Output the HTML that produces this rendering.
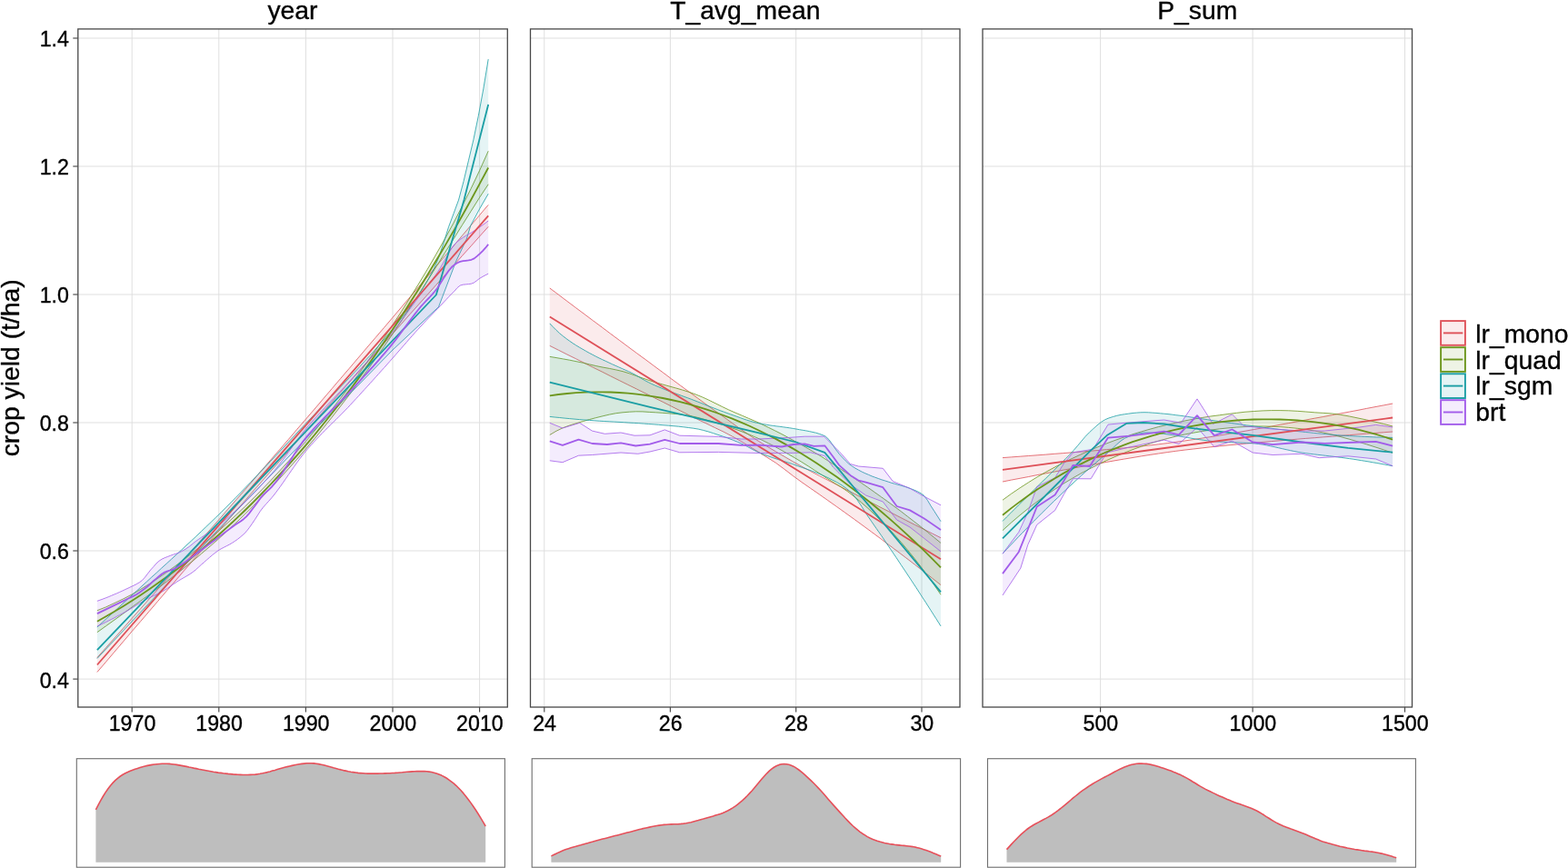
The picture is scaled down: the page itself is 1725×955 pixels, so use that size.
<!DOCTYPE html>
<html lang="en"><head><meta charset="utf-8"><title>crop yield (t/ha)</title>
<style>
html,body{margin:0;padding:0;background:#fff;}
body{width:1725px;height:955px;overflow:hidden;}
svg{display:block;}
text{font-family:"Liberation Sans",Arial,Helvetica,sans-serif;fill:#000;stroke:#000;stroke-width:0.35px;stroke-linejoin:round;}
.ax{font-size:23.2px;}
.st{font-size:28.3px;}
.lg{font-size:28.3px;}
.grid line{stroke:#dfdfdf;stroke-width:1;}
.tick line{stroke:#484848;stroke-width:1.15;}
.c{fill:none;stroke-width:1.8;stroke-linejoin:round;stroke-linecap:butt;}
.e{fill:none;stroke-width:0.8;stroke-linejoin:round;}
</style></head><body>
<svg width="1725" height="955" viewBox="0 0 1725 955">
<rect x="0" y="0" width="1725" height="955" fill="#ffffff"/>
<text class="st" x="322" y="20.5" text-anchor="middle">year</text>
<text class="st" x="819.8" y="20.5" text-anchor="middle">T_avg_mean</text>
<text class="st" x="1317.2" y="20.5" text-anchor="middle">P_sum</text>
<text class="st" transform="translate(21.2,404.8) rotate(-90)" text-anchor="middle">crop yield (t/ha)</text>
<g class="tick">
<line x1="80.3" x2="85.8" y1="42" y2="42"/>
<line x1="80.3" x2="85.8" y1="183" y2="183"/>
<line x1="80.3" x2="85.8" y1="324" y2="324"/>
<line x1="80.3" x2="85.8" y1="465" y2="465"/>
<line x1="80.3" x2="85.8" y1="606" y2="606"/>
<line x1="80.3" x2="85.8" y1="747.1" y2="747.1"/>
</g>
<text class="ax" x="75.9" y="51.4" text-anchor="end">1.4</text>
<text class="ax" x="75.9" y="192.4" text-anchor="end">1.2</text>
<text class="ax" x="75.9" y="333.4" text-anchor="end">1.0</text>
<text class="ax" x="75.9" y="474.4" text-anchor="end">0.8</text>
<text class="ax" x="75.9" y="615.4" text-anchor="end">0.6</text>
<text class="ax" x="75.9" y="756.5" text-anchor="end">0.4</text>
<g class="grid">
<line x1="85.8" x2="558.3" y1="42" y2="42"/>
<line x1="85.8" x2="558.3" y1="183" y2="183"/>
<line x1="85.8" x2="558.3" y1="324" y2="324"/>
<line x1="85.8" x2="558.3" y1="465" y2="465"/>
<line x1="85.8" x2="558.3" y1="606" y2="606"/>
<line x1="85.8" x2="558.3" y1="747.1" y2="747.1"/>
<line x1="145.2" x2="145.2" y1="31.9" y2="778"/>
<line x1="240.8" x2="240.8" y1="31.9" y2="778"/>
<line x1="336.4" x2="336.4" y1="31.9" y2="778"/>
<line x1="432" x2="432" y1="31.9" y2="778"/>
<line x1="527.6" x2="527.6" y1="31.9" y2="778"/>
</g>
<polygon points="106.9,723.5 116.5,712.7 126,702 135.6,691.2 145.1,680.4 154.7,669.6 164.3,658.8 173.8,648 183.4,637.2 193,626.3 202.5,615.4 212.1,604.6 221.6,593.6 231.2,582.7 240.8,571.8 250.3,560.8 259.9,549.8 269.5,538.8 279,527.8 288.6,516.7 298.1,505.6 307.7,494.6 317.3,483.5 326.8,472.3 336.4,461.2 346,450.1 355.5,438.9 365.1,427.7 374.6,416.5 384.2,405.4 393.8,394.1 403.3,382.9 412.9,371.7 422.5,360.5 432,349.3 441.6,338 451.1,326.8 460.7,315.5 470.3,304.3 479.8,293 489.4,281.7 499,270.5 508.5,259.2 518.1,247.9 527.6,236.7 537.2,225.4 537.2,249.4 527.6,260.1 518.1,270.8 508.5,281.4 499,292.1 489.4,302.8 479.8,313.5 470.3,324.2 460.7,334.9 451.1,345.6 441.6,356.4 432,367.1 422.5,377.8 412.9,388.5 403.3,399.3 393.8,410 384.2,420.8 374.6,431.6 365.1,442.3 355.5,453.1 346,463.9 336.4,474.7 326.8,485.6 317.3,496.4 307.7,507.3 298.1,518.1 288.6,529 279,539.9 269.5,550.9 259.9,561.8 250.3,572.8 240.8,583.8 231.2,594.8 221.6,605.8 212.1,616.9 202.5,627.9 193,639 183.4,650.1 173.8,661.3 164.3,672.4 154.7,683.6 145.1,694.7 135.6,705.9 126,717.1 116.5,728.3 106.9,739.5" fill="#DE5058" fill-opacity="0.115" stroke="none"/>
<polyline class="e" stroke="#DE5058" points="106.9,723.5 116.5,712.7 126,702 135.6,691.2 145.1,680.4 154.7,669.6 164.3,658.8 173.8,648 183.4,637.2 193,626.3 202.5,615.4 212.1,604.6 221.6,593.6 231.2,582.7 240.8,571.8 250.3,560.8 259.9,549.8 269.5,538.8 279,527.8 288.6,516.7 298.1,505.6 307.7,494.6 317.3,483.5 326.8,472.3 336.4,461.2 346,450.1 355.5,438.9 365.1,427.7 374.6,416.5 384.2,405.4 393.8,394.1 403.3,382.9 412.9,371.7 422.5,360.5 432,349.3 441.6,338 451.1,326.8 460.7,315.5 470.3,304.3 479.8,293 489.4,281.7 499,270.5 508.5,259.2 518.1,247.9 527.6,236.7 537.2,225.4"/>
<polyline class="e" stroke="#DE5058" points="106.9,739.5 116.5,728.3 126,717.1 135.6,705.9 145.1,694.7 154.7,683.6 164.3,672.4 173.8,661.3 183.4,650.1 193,639 202.5,627.9 212.1,616.9 221.6,605.8 231.2,594.8 240.8,583.8 250.3,572.8 259.9,561.8 269.5,550.9 279,539.9 288.6,529 298.1,518.1 307.7,507.3 317.3,496.4 326.8,485.6 336.4,474.7 346,463.9 355.5,453.1 365.1,442.3 374.6,431.6 384.2,420.8 393.8,410 403.3,399.3 412.9,388.5 422.5,377.8 432,367.1 441.6,356.4 451.1,345.6 460.7,334.9 470.3,324.2 479.8,313.5 489.4,302.8 499,292.1 508.5,281.4 518.1,270.8 527.6,260.1 537.2,249.4"/>
<polygon points="106.9,671.7 116.5,667.9 126,663.5 135.6,658.9 145.1,654 154.7,648.4 164.3,642.5 173.8,636.2 183.4,629.6 193,622.6 202.5,615.4 212.1,607.9 221.6,600.2 231.2,592.2 240.8,583.9 250.3,575.3 259.9,566.4 269.5,557.3 279,547.9 288.6,538.2 298.1,528.3 307.7,518 317.3,507.5 326.8,496.7 336.4,485.6 346,474.1 355.5,462.4 365.1,450.4 374.6,438.1 384.2,425.5 393.8,412.5 403.3,399.2 412.9,385.6 422.5,371.7 432,357.4 441.6,342.7 451.1,327.6 460.7,312.1 470.3,296.2 479.8,279.8 489.4,262.8 499,245.2 508.5,226.8 518.1,207.6 527.6,187.6 537.2,166.2 537.2,202.8 527.6,217.3 518.1,232.4 508.5,247.6 499,262.9 489.4,278.3 479.8,293.6 470.3,308.8 460.7,323.9 451.1,338.6 441.6,353.1 432,367.4 422.5,381.4 412.9,395.1 403.3,408.6 393.8,421.7 384.2,434.5 374.6,447 365.1,459.2 355.5,471.2 346,482.8 336.4,494.1 326.8,505.2 317.3,515.9 307.7,526.4 298.1,536.7 288.6,546.6 279,556.3 269.5,565.8 259.9,575 250.3,583.9 240.8,592.6 231.2,601 221.6,609.2 212.1,617.2 202.5,625 193,632.5 183.4,639.9 173.8,647.1 164.3,654.1 154.7,661.1 145.1,668 135.6,675.1 126,682 116.5,688.8 106.9,695.7" fill="#6C961C" fill-opacity="0.115" stroke="none"/>
<polyline class="e" stroke="#6C961C" points="106.9,671.7 116.5,667.9 126,663.5 135.6,658.9 145.1,654 154.7,648.4 164.3,642.5 173.8,636.2 183.4,629.6 193,622.6 202.5,615.4 212.1,607.9 221.6,600.2 231.2,592.2 240.8,583.9 250.3,575.3 259.9,566.4 269.5,557.3 279,547.9 288.6,538.2 298.1,528.3 307.7,518 317.3,507.5 326.8,496.7 336.4,485.6 346,474.1 355.5,462.4 365.1,450.4 374.6,438.1 384.2,425.5 393.8,412.5 403.3,399.2 412.9,385.6 422.5,371.7 432,357.4 441.6,342.7 451.1,327.6 460.7,312.1 470.3,296.2 479.8,279.8 489.4,262.8 499,245.2 508.5,226.8 518.1,207.6 527.6,187.6 537.2,166.2"/>
<polyline class="e" stroke="#6C961C" points="106.9,695.7 116.5,688.8 126,682 135.6,675.1 145.1,668 154.7,661.1 164.3,654.1 173.8,647.1 183.4,639.9 193,632.5 202.5,625 212.1,617.2 221.6,609.2 231.2,601 240.8,592.6 250.3,583.9 259.9,575 269.5,565.8 279,556.3 288.6,546.6 298.1,536.7 307.7,526.4 317.3,515.9 326.8,505.2 336.4,494.1 346,482.8 355.5,471.2 365.1,459.2 374.6,447 384.2,434.5 393.8,421.7 403.3,408.6 412.9,395.1 422.5,381.4 432,367.4 441.6,353.1 451.1,338.6 460.7,323.9 470.3,308.8 479.8,293.6 489.4,278.3 499,262.9 508.5,247.6 518.1,232.4 527.6,217.3 537.2,202.8"/>
<polygon points="106.9,690 112.3,685 117.8,680 123.2,675 128.7,670 134.1,665 139.6,660 145,655 150.5,650 155.9,645 161.4,640 166.8,635 172.3,630.1 177.7,625.1 183.2,620.1 188.6,615.2 194,610.2 199.5,605.2 204.9,600.1 210.4,595.1 215.8,590 221.3,584.8 226.7,579.6 232.2,574.4 237.6,569.1 243.1,563.8 248.5,558.3 254,552.9 259.4,547.3 264.9,541.8 270.3,536.1 275.8,530.5 281.2,524.8 286.6,519 292.1,513.3 297.5,507.5 303,501.7 308.4,495.9 313.9,490.1 319.3,484.3 324.8,478.4 330.2,472.6 335.7,466.8 341.1,461 346.6,455.2 352,449.5 357.5,443.8 362.9,438.1 368.3,432.4 373.8,426.7 379.2,421 384.7,415.3 390.1,409.4 395.6,403.6 401,397.6 406.5,391.6 411.9,385.5 417.4,379.3 422.8,373 428.3,366.5 433.7,359.9 439.2,353.2 444.6,346.4 450.1,339.2 455.5,331.6 460.9,323.6 466.4,315.2 471.8,306.1 477.3,295.8 482.7,283.2 488.2,266.7 493.6,249.5 499.1,234.8 504.5,220.1 510,199.6 515.4,176.8 520.9,153.7 526.3,127.5 531.8,97.9 537.2,65.1 537.2,213.2 527.9,229.3 517.7,248.4 513.3,263 501.5,287.9 482.5,337.7 432,385 336.4,483 240.8,582 106.9,724.5" fill="#1A9EA4" fill-opacity="0.115" stroke="none"/>
<polyline class="e" stroke="#1A9EA4" points="106.9,690 112.3,685 117.8,680 123.2,675 128.7,670 134.1,665 139.6,660 145,655 150.5,650 155.9,645 161.4,640 166.8,635 172.3,630.1 177.7,625.1 183.2,620.1 188.6,615.2 194,610.2 199.5,605.2 204.9,600.1 210.4,595.1 215.8,590 221.3,584.8 226.7,579.6 232.2,574.4 237.6,569.1 243.1,563.8 248.5,558.3 254,552.9 259.4,547.3 264.9,541.8 270.3,536.1 275.8,530.5 281.2,524.8 286.6,519 292.1,513.3 297.5,507.5 303,501.7 308.4,495.9 313.9,490.1 319.3,484.3 324.8,478.4 330.2,472.6 335.7,466.8 341.1,461 346.6,455.2 352,449.5 357.5,443.8 362.9,438.1 368.3,432.4 373.8,426.7 379.2,421 384.7,415.3 390.1,409.4 395.6,403.6 401,397.6 406.5,391.6 411.9,385.5 417.4,379.3 422.8,373 428.3,366.5 433.7,359.9 439.2,353.2 444.6,346.4 450.1,339.2 455.5,331.6 460.9,323.6 466.4,315.2 471.8,306.1 477.3,295.8 482.7,283.2 488.2,266.7 493.6,249.5 499.1,234.8 504.5,220.1 510,199.6 515.4,176.8 520.9,153.7 526.3,127.5 531.8,97.9 537.2,65.1"/>
<polyline class="e" stroke="#1A9EA4" points="106.9,724.5 240.8,582 336.4,483 432,385 482.5,337.7 501.5,287.9 513.3,263 517.7,248.4 527.9,229.3 537.2,213.2"/>
<polygon points="106.9,661.3 110,660.2 113.1,659.1 116.2,657.9 119.3,656.7 122.4,655.4 125.5,654.1 128.6,652.8 131.7,651.4 134.8,650 137.9,648.5 141,647.1 144,645.6 147.1,644.2 150.2,642.6 153.3,640.8 156.4,638.5 159.5,635.1 162.6,631 165.7,627 168.8,623.6 171.9,620.1 175,617.2 178.1,615.2 181.2,613.7 184.3,612.5 187.4,611.3 190.5,610.2 193.6,609.2 196.7,608.1 199.8,606.6 202.9,604.9 206,602.9 209.1,600.7 212.2,598.1 215.2,595.7 218.3,593.5 221.4,591.4 224.5,589.3 227.6,587.2 230.7,585.2 233.8,583 236.9,580.8 240,578.4 243.1,575.9 246.2,573.3 249.3,570.7 252.4,568 255.5,565.3 258.6,562.5 261.7,559.6 264.8,556.7 267.9,553.8 271,550.8 274.1,547.7 277.2,544.6 280.3,541.4 283.4,538.2 286.4,534.9 289.5,531.6 292.6,528.2 295.7,524.8 298.8,521.3 301.9,517.8 305,514 308.1,510 311.2,505.9 314.3,501.6 317.4,497.3 320.5,493 323.6,488.7 326.7,484.4 329.8,480.3 332.9,476.2 336,472.4 339.1,468.7 342.2,465.1 345.3,461.6 348.4,458.2 351.5,454.8 354.6,451.5 357.7,448.2 360.7,444.9 363.8,441.6 366.9,438.4 370,435.1 373.1,431.8 376.2,428.5 379.3,425.2 382.4,421.8 385.5,418.3 388.6,414.9 391.7,411.4 394.8,408 397.9,404.5 401,401.1 404.1,397.6 407.2,394.2 410.3,390.7 413.4,387.1 416.5,383.6 419.6,380 422.7,376.3 425.8,372.6 428.9,368.9 431.9,365.1 435,361.2 438.1,357.2 441.2,353.1 444.3,348.9 447.4,344.7 450.5,340.5 453.6,336.3 456.7,332.1 459.8,327.9 462.9,323.8 466,319.8 469.1,315.8 472.2,311.9 475.3,307.9 478.4,303.7 481.5,299.3 484.6,294.4 487.7,289 490.8,283.4 493.9,278 497,273 500.1,268.9 503.1,265.9 506.2,263.5 509.3,261.4 512.4,259.4 515.5,257.7 518.6,255.9 521.7,253.9 524.8,251.8 527.9,249.7 531,247.6 534.1,245.3 537.2,243 537.2,301.1 534.1,302.7 531,304.4 527.9,306.2 524.8,308.5 521.7,310.9 518.6,312.2 515.5,312.6 512.4,312.9 509.3,313.2 506.2,314.1 503.1,316.6 500.1,320.1 497,323.2 493.9,326.4 490.8,329.7 487.7,333 484.6,336.3 481.5,339.6 478.4,342.8 475.3,346 472.2,349.2 469.1,352.4 466,355.7 462.9,359 459.8,362.4 456.7,365.8 453.6,369.3 450.5,372.8 447.4,376.4 444.3,379.9 441.2,383.5 438.1,387 435,390.6 431.9,394.1 428.9,397.5 425.8,401 422.7,404.5 419.6,407.9 416.5,411.4 413.4,414.8 410.3,418.3 407.2,421.7 404.1,425.1 401,428.5 397.9,431.9 394.8,435.3 391.7,438.7 388.6,442 385.5,445.4 382.4,448.7 379.3,451.9 376.2,455.1 373.1,458.2 370,461.3 366.9,464.3 363.8,467.4 360.7,470.4 357.7,473.5 354.6,476.6 351.5,479.8 348.4,483 345.3,486.3 342.2,489.7 339.1,493.2 336,496.9 332.9,500.7 329.8,504.8 326.7,509 323.6,513.4 320.5,517.8 317.4,522.3 314.3,526.8 311.2,531.3 308.1,535.7 305,539.9 301.9,544 298.8,547.8 295.7,551.3 292.6,554.7 289.5,558.2 286.4,562.3 283.4,567 280.3,571.8 277.2,576.4 274.1,580.8 271,584.8 267.9,587.9 264.8,590.6 261.7,593.1 258.6,595.3 255.5,597.3 252.4,599.1 249.3,600.7 246.2,602.3 243.1,603.9 240,605.8 236.9,608.1 233.8,610.5 230.7,613.2 227.6,615.9 224.5,618.6 221.4,621.3 218.3,624.2 215.2,627 212.2,629.4 209.1,631.5 206,633.4 202.9,635.2 199.8,637 196.7,638.8 193.6,640.8 190.5,642.9 187.4,645.1 184.3,647.3 181.2,649.3 178.1,651.1 175,652.7 171.9,654.2 168.8,655.6 165.7,657.1 162.6,658.6 159.5,660.3 156.4,662 153.3,663.9 150.2,665.8 147.1,667.8 144,669.6 141,671.5 137.9,673.2 134.8,674.9 131.7,676.6 128.6,678.2 125.5,679.9 122.4,681.5 119.3,683 116.2,684.6 113.1,686.1 110,687.6 106.9,689" fill="#A25CEA" fill-opacity="0.115" stroke="none"/>
<polyline class="e" stroke="#A25CEA" points="106.9,661.3 110,660.2 113.1,659.1 116.2,657.9 119.3,656.7 122.4,655.4 125.5,654.1 128.6,652.8 131.7,651.4 134.8,650 137.9,648.5 141,647.1 144,645.6 147.1,644.2 150.2,642.6 153.3,640.8 156.4,638.5 159.5,635.1 162.6,631 165.7,627 168.8,623.6 171.9,620.1 175,617.2 178.1,615.2 181.2,613.7 184.3,612.5 187.4,611.3 190.5,610.2 193.6,609.2 196.7,608.1 199.8,606.6 202.9,604.9 206,602.9 209.1,600.7 212.2,598.1 215.2,595.7 218.3,593.5 221.4,591.4 224.5,589.3 227.6,587.2 230.7,585.2 233.8,583 236.9,580.8 240,578.4 243.1,575.9 246.2,573.3 249.3,570.7 252.4,568 255.5,565.3 258.6,562.5 261.7,559.6 264.8,556.7 267.9,553.8 271,550.8 274.1,547.7 277.2,544.6 280.3,541.4 283.4,538.2 286.4,534.9 289.5,531.6 292.6,528.2 295.7,524.8 298.8,521.3 301.9,517.8 305,514 308.1,510 311.2,505.9 314.3,501.6 317.4,497.3 320.5,493 323.6,488.7 326.7,484.4 329.8,480.3 332.9,476.2 336,472.4 339.1,468.7 342.2,465.1 345.3,461.6 348.4,458.2 351.5,454.8 354.6,451.5 357.7,448.2 360.7,444.9 363.8,441.6 366.9,438.4 370,435.1 373.1,431.8 376.2,428.5 379.3,425.2 382.4,421.8 385.5,418.3 388.6,414.9 391.7,411.4 394.8,408 397.9,404.5 401,401.1 404.1,397.6 407.2,394.2 410.3,390.7 413.4,387.1 416.5,383.6 419.6,380 422.7,376.3 425.8,372.6 428.9,368.9 431.9,365.1 435,361.2 438.1,357.2 441.2,353.1 444.3,348.9 447.4,344.7 450.5,340.5 453.6,336.3 456.7,332.1 459.8,327.9 462.9,323.8 466,319.8 469.1,315.8 472.2,311.9 475.3,307.9 478.4,303.7 481.5,299.3 484.6,294.4 487.7,289 490.8,283.4 493.9,278 497,273 500.1,268.9 503.1,265.9 506.2,263.5 509.3,261.4 512.4,259.4 515.5,257.7 518.6,255.9 521.7,253.9 524.8,251.8 527.9,249.7 531,247.6 534.1,245.3 537.2,243"/>
<polyline class="e" stroke="#A25CEA" points="106.9,689 110,687.6 113.1,686.1 116.2,684.6 119.3,683 122.4,681.5 125.5,679.9 128.6,678.2 131.7,676.6 134.8,674.9 137.9,673.2 141,671.5 144,669.6 147.1,667.8 150.2,665.8 153.3,663.9 156.4,662 159.5,660.3 162.6,658.6 165.7,657.1 168.8,655.6 171.9,654.2 175,652.7 178.1,651.1 181.2,649.3 184.3,647.3 187.4,645.1 190.5,642.9 193.6,640.8 196.7,638.8 199.8,637 202.9,635.2 206,633.4 209.1,631.5 212.2,629.4 215.2,627 218.3,624.2 221.4,621.3 224.5,618.6 227.6,615.9 230.7,613.2 233.8,610.5 236.9,608.1 240,605.8 243.1,603.9 246.2,602.3 249.3,600.7 252.4,599.1 255.5,597.3 258.6,595.3 261.7,593.1 264.8,590.6 267.9,587.9 271,584.8 274.1,580.8 277.2,576.4 280.3,571.8 283.4,567 286.4,562.3 289.5,558.2 292.6,554.7 295.7,551.3 298.8,547.8 301.9,544 305,539.9 308.1,535.7 311.2,531.3 314.3,526.8 317.4,522.3 320.5,517.8 323.6,513.4 326.7,509 329.8,504.8 332.9,500.7 336,496.9 339.1,493.2 342.2,489.7 345.3,486.3 348.4,483 351.5,479.8 354.6,476.6 357.7,473.5 360.7,470.4 363.8,467.4 366.9,464.3 370,461.3 373.1,458.2 376.2,455.1 379.3,451.9 382.4,448.7 385.5,445.4 388.6,442 391.7,438.7 394.8,435.3 397.9,431.9 401,428.5 404.1,425.1 407.2,421.7 410.3,418.3 413.4,414.8 416.5,411.4 419.6,407.9 422.7,404.5 425.8,401 428.9,397.5 431.9,394.1 435,390.6 438.1,387 441.2,383.5 444.3,379.9 447.4,376.4 450.5,372.8 453.6,369.3 456.7,365.8 459.8,362.4 462.9,359 466,355.7 469.1,352.4 472.2,349.2 475.3,346 478.4,342.8 481.5,339.6 484.6,336.3 487.7,333 490.8,329.7 493.9,326.4 497,323.2 500.1,320.1 503.1,316.6 506.2,314.1 509.3,313.2 512.4,312.9 515.5,312.6 518.6,312.2 521.7,310.9 524.8,308.5 527.9,306.2 531,304.4 534.1,302.7 537.2,301.1"/>
<polyline class="c" stroke="#DE5058" points="106.9,731.5 537.2,237.4"/>
<polyline class="c" stroke="#6C961C" points="106.9,683.7 116.5,678.3 126,672.8 135.6,667 145.1,661 154.7,654.8 164.3,648.3 173.8,641.6 183.4,634.7 193,627.6 202.5,620.2 212.1,612.6 221.6,604.7 231.2,596.6 240.8,588.2 250.3,579.6 259.9,570.7 269.5,561.5 279,552.1 288.6,542.4 298.1,532.5 307.7,522.2 317.3,511.7 326.8,500.9 336.4,489.8 346,478.5 355.5,466.8 365.1,454.8 374.6,442.6 384.2,430 393.8,417.1 403.3,403.9 412.9,390.4 422.5,376.6 432,362.4 441.6,347.9 451.1,333.1 460.7,318 470.3,302.5 479.8,286.7 489.4,270.6 499,254.1 508.5,237.2 518.1,220 527.6,202.4 537.2,184.5"/>
<polyline class="c" stroke="#1A9EA4" points="106.9,715.2 479.8,324.5 510.5,220 537.2,115"/>
<polyline class="c" stroke="#A25CEA" points="106.9,675.1 110,673.6 113.1,672.1 116.2,670.6 119.3,669.1 122.4,667.6 125.5,666.1 128.6,664.6 131.7,663.1 134.8,661.6 137.9,660.1 141,658.5 144,657.1 147.1,655.6 150.2,654 153.3,652 156.4,649.8 159.5,647.5 162.6,645 165.7,642.1 168.8,639.2 171.9,636.6 175,634 178.1,631.5 181.2,629.5 184.3,628.3 187.4,627.5 190.5,626.4 193.6,624.9 196.7,623 199.8,621 202.9,618.9 206,616.7 209.1,614.4 212.2,612.1 215.2,609.8 218.3,607.6 221.4,605.3 224.5,603 227.6,600.6 230.7,598.3 233.8,596 236.9,593.7 240,591.4 243.1,589.1 246.2,586.7 249.3,584.4 252.4,582.1 255.5,579.8 258.6,577.6 261.7,575.6 264.8,573.5 267.9,571.2 271,568.4 274.1,564.9 277.2,560.8 280.3,556.7 283.4,552.4 286.4,548.2 289.5,544.6 292.6,541.6 295.7,538.8 298.8,535.8 301.9,532.2 305,528.3 308.1,524 311.2,519.4 314.3,514.7 317.4,509.8 320.5,504.9 323.6,500.1 326.7,495.3 329.8,490.7 332.9,486.4 336,482.4 339.1,478.7 342.2,475.1 345.3,471.6 348.4,468.3 351.5,465 354.6,461.8 357.7,458.7 360.7,455.6 363.8,452.5 366.9,449.5 370,446.4 373.1,443.3 376.2,440.2 379.3,437 382.4,433.7 385.5,430.4 388.6,427 391.7,423.6 394.8,420.3 397.9,416.9 401,413.5 404.1,410.1 407.2,406.7 410.3,403.3 413.4,399.8 416.5,396.3 419.6,392.7 422.7,389.1 425.8,385.5 428.9,381.8 431.9,378.1 435,374.2 438.1,370.2 441.2,366 444.3,361.8 447.4,357.6 450.5,353.4 453.6,349.2 456.7,345.1 459.8,341.2 462.9,337.4 466,334 469.1,330.7 472.2,327.5 475.3,324.1 478.4,320.5 481.5,316.5 484.6,311.6 487.7,306.6 490.8,302 493.9,297.5 497,293.8 500.1,291.3 503.1,289.3 506.2,287.9 509.3,287.2 512.4,286.8 515.5,286.4 518.6,285.8 521.7,284.4 524.8,281.9 527.9,279.1 531,276.1 534.1,272.7 537.2,268.9"/>
<rect x="85.8" y="31.9" width="472.5" height="746.1" fill="none" stroke="#484848" stroke-width="1.3"/>
<g class="tick">
<line x1="145.2" x2="145.2" y1="778" y2="783.6"/>
<line x1="240.8" x2="240.8" y1="778" y2="783.6"/>
<line x1="336.4" x2="336.4" y1="778" y2="783.6"/>
<line x1="432" x2="432" y1="778" y2="783.6"/>
<line x1="527.6" x2="527.6" y1="778" y2="783.6"/>
</g>
<text class="ax" x="145.5" y="804.4" text-anchor="middle">1970</text>
<text class="ax" x="241.1" y="804.4" text-anchor="middle">1980</text>
<text class="ax" x="336.7" y="804.4" text-anchor="middle">1990</text>
<text class="ax" x="432.3" y="804.4" text-anchor="middle">2000</text>
<text class="ax" x="527.9" y="804.4" text-anchor="middle">2010</text>
<g class="grid">
<line x1="583.5" x2="1056" y1="42" y2="42"/>
<line x1="583.5" x2="1056" y1="183" y2="183"/>
<line x1="583.5" x2="1056" y1="324" y2="324"/>
<line x1="583.5" x2="1056" y1="465" y2="465"/>
<line x1="583.5" x2="1056" y1="606" y2="606"/>
<line x1="583.5" x2="1056" y1="747.1" y2="747.1"/>
<line x1="598.8" x2="598.8" y1="31.9" y2="778"/>
<line x1="737.4" x2="737.4" y1="31.9" y2="778"/>
<line x1="875.7" x2="875.7" y1="31.9" y2="778"/>
<line x1="1014" x2="1014" y1="31.9" y2="778"/>
</g>
<polygon points="604.8,317 614.4,324.2 623.9,331.4 633.5,338.6 643,345.7 652.6,352.9 662.2,360 671.7,367.2 681.3,374.3 690.8,381.4 700.4,388.5 710,395.5 719.5,402.6 729.1,409.7 738.6,416.8 748.2,423.9 757.8,430.9 767.3,437.9 776.9,444.9 786.4,451.8 796,458.6 805.6,465.5 815.1,472.4 824.7,479 834.2,485.2 843.8,491.1 853.4,496.8 862.9,502.3 872.5,507.9 882,513.2 891.6,518.4 901.2,523.4 910.7,528.3 920.3,533.2 929.8,538.1 939.4,543 949,548 958.5,552.9 968.1,557.9 977.6,562.7 987.2,567.6 996.8,572.5 1006.3,577.3 1015.9,582.1 1025.4,586.9 1035,591.7 1035,643.6 1025.4,636 1015.9,628.6 1006.3,621.1 996.8,613.8 987.2,606.5 977.6,599.3 968.1,592.1 958.5,585 949,578 939.4,571 929.8,564.1 920.3,557.3 910.7,550.5 901.2,543.8 891.6,537.2 882,530.5 872.5,523.6 862.9,516.2 853.4,509.2 843.8,503.2 834.2,497.2 824.7,491.3 815.1,485.5 805.6,480.1 796,475.1 786.4,470.5 776.9,465.9 767.3,461.3 757.8,456.6 748.2,451.8 738.6,447 729.1,442.2 719.5,437.5 710,432.8 700.4,428 690.8,423.3 681.3,418.6 671.7,413.8 662.2,409 652.6,404.3 643,399.5 633.5,394.7 623.9,390 614.4,385.2 604.8,380.4" fill="#DE5058" fill-opacity="0.115" stroke="none"/>
<polyline class="e" stroke="#DE5058" points="604.8,317 614.4,324.2 623.9,331.4 633.5,338.6 643,345.7 652.6,352.9 662.2,360 671.7,367.2 681.3,374.3 690.8,381.4 700.4,388.5 710,395.5 719.5,402.6 729.1,409.7 738.6,416.8 748.2,423.9 757.8,430.9 767.3,437.9 776.9,444.9 786.4,451.8 796,458.6 805.6,465.5 815.1,472.4 824.7,479 834.2,485.2 843.8,491.1 853.4,496.8 862.9,502.3 872.5,507.9 882,513.2 891.6,518.4 901.2,523.4 910.7,528.3 920.3,533.2 929.8,538.1 939.4,543 949,548 958.5,552.9 968.1,557.9 977.6,562.7 987.2,567.6 996.8,572.5 1006.3,577.3 1015.9,582.1 1025.4,586.9 1035,591.7"/>
<polyline class="e" stroke="#DE5058" points="604.8,380.4 614.4,385.2 623.9,390 633.5,394.7 643,399.5 652.6,404.3 662.2,409 671.7,413.8 681.3,418.6 690.8,423.3 700.4,428 710,432.8 719.5,437.5 729.1,442.2 738.6,447 748.2,451.8 757.8,456.6 767.3,461.3 776.9,465.9 786.4,470.5 796,475.1 805.6,480.1 815.1,485.5 824.7,491.3 834.2,497.2 843.8,503.2 853.4,509.2 862.9,516.2 872.5,523.6 882,530.5 891.6,537.2 901.2,543.8 910.7,550.5 920.3,557.3 929.8,564.1 939.4,571 949,578 958.5,585 968.1,592.1 977.6,599.3 987.2,606.5 996.8,613.8 1006.3,621.1 1015.9,628.6 1025.4,636 1035,643.6"/>
<polygon points="604.8,392.4 612.1,393.6 619.4,394.9 626.7,396.2 634,397.7 641.3,399.2 648.5,400.9 655.8,402.6 663.1,404.1 670.4,405.4 677.7,406.9 685,408.6 692.3,410.8 699.6,413.4 706.9,416 714.2,418.5 721.5,420.8 728.8,422.9 736,424.9 743.3,426.9 750.6,429 757.9,431.3 765.2,433.9 772.5,436.8 779.8,440.2 787.1,443.8 794.4,447.4 801.7,450.9 809,454.1 816.3,457.2 823.5,460.3 830.8,463.4 838.1,466.8 845.4,470.3 852.7,473.9 860,477.6 867.3,481.5 874.6,485.5 881.9,489.5 889.2,493.7 896.5,498 903.8,502.4 911,507 918.3,511.8 925.6,516.5 932.9,521.4 940.2,526.3 947.5,531.3 954.8,536.3 962.1,541.5 969.4,546.7 976.7,551.9 984,557.3 991.3,562.7 998.5,568.3 1005.8,573.9 1013.1,579.6 1020.4,585.4 1027.7,591.4 1035,597.4 1035,654.3 1027.7,643.6 1020.4,633.4 1013.1,623.6 1005.8,614.2 998.5,605.2 991.3,596.6 984,588.4 976.7,580.5 969.4,573.1 962.1,566 954.8,559.2 947.5,552.8 940.2,546.7 932.9,541 925.6,536.1 918.3,531.6 911,527.1 903.8,522.4 896.5,517.6 889.2,512.9 881.9,508.3 874.6,503.9 867.3,499.7 860,495.5 852.7,491.5 845.4,487.7 838.1,484.1 830.8,480.9 823.5,477.8 816.3,474.9 809,472.2 801.7,469.6 794.4,467.2 787.1,465 779.8,462.8 772.5,460.7 765.2,458.8 757.9,457.3 750.6,456.2 743.3,455.5 736,454.8 728.8,454.3 721.5,453.8 714.2,453.4 706.9,452.9 699.6,452.8 692.3,453.2 685,453.8 677.7,454.7 670.4,456.1 663.1,457.8 655.8,459.6 648.5,461.5 641.3,463.6 634,465.8 626.7,468 619.4,470.7 612.1,474.2 604.8,478.5" fill="#6C961C" fill-opacity="0.115" stroke="none"/>
<polyline class="e" stroke="#6C961C" points="604.8,392.4 612.1,393.6 619.4,394.9 626.7,396.2 634,397.7 641.3,399.2 648.5,400.9 655.8,402.6 663.1,404.1 670.4,405.4 677.7,406.9 685,408.6 692.3,410.8 699.6,413.4 706.9,416 714.2,418.5 721.5,420.8 728.8,422.9 736,424.9 743.3,426.9 750.6,429 757.9,431.3 765.2,433.9 772.5,436.8 779.8,440.2 787.1,443.8 794.4,447.4 801.7,450.9 809,454.1 816.3,457.2 823.5,460.3 830.8,463.4 838.1,466.8 845.4,470.3 852.7,473.9 860,477.6 867.3,481.5 874.6,485.5 881.9,489.5 889.2,493.7 896.5,498 903.8,502.4 911,507 918.3,511.8 925.6,516.5 932.9,521.4 940.2,526.3 947.5,531.3 954.8,536.3 962.1,541.5 969.4,546.7 976.7,551.9 984,557.3 991.3,562.7 998.5,568.3 1005.8,573.9 1013.1,579.6 1020.4,585.4 1027.7,591.4 1035,597.4"/>
<polyline class="e" stroke="#6C961C" points="604.8,478.5 612.1,474.2 619.4,470.7 626.7,468 634,465.8 641.3,463.6 648.5,461.5 655.8,459.6 663.1,457.8 670.4,456.1 677.7,454.7 685,453.8 692.3,453.2 699.6,452.8 706.9,452.9 714.2,453.4 721.5,453.8 728.8,454.3 736,454.8 743.3,455.5 750.6,456.2 757.9,457.3 765.2,458.8 772.5,460.7 779.8,462.8 787.1,465 794.4,467.2 801.7,469.6 809,472.2 816.3,474.9 823.5,477.8 830.8,480.9 838.1,484.1 845.4,487.7 852.7,491.5 860,495.5 867.3,499.7 874.6,503.9 881.9,508.3 889.2,512.9 896.5,517.6 903.8,522.4 911,527.1 918.3,531.6 925.6,536.1 932.9,541 940.2,546.7 947.5,552.8 954.8,559.2 962.1,566 969.4,573.1 976.7,580.5 984,588.4 991.3,596.6 998.5,605.2 1005.8,614.2 1013.1,623.6 1020.4,633.4 1027.7,643.6 1035,654.3"/>
<polygon points="604.8,355.9 608.4,359.7 612,363.3 615.6,366.7 619.3,369.7 622.9,372.5 626.5,375.1 630.1,377.6 633.7,379.9 637.3,382.1 641,384.2 644.6,386.3 648.2,388.3 651.8,390.2 655.4,392.1 659,393.9 662.6,395.6 666.3,397.3 669.9,399 673.5,400.7 677.1,402.3 680.7,403.9 684.3,405.5 687.9,407.1 691.6,408.7 695.2,410.4 698.8,412.3 702.4,414.4 706,416.6 709.6,418.7 713.3,420.6 716.9,422.4 720.5,424 724.1,425.5 727.7,427 731.3,428.5 734.9,429.9 738.6,431.2 742.2,432.6 745.8,433.9 749.4,435.2 753,436.5 756.6,437.8 760.3,439.2 763.9,440.6 767.5,442 771.1,443.4 774.7,444.8 778.3,446.3 781.9,447.7 785.6,449.1 789.2,450.5 792.8,451.9 796.4,453.2 800,454.5 803.6,455.8 807.2,457.1 810.9,458.4 814.5,459.7 818.1,461 821.7,462.2 825.3,463.3 828.9,464.3 832.6,465.3 836.2,466 839.8,466.7 843.4,467.3 847,467.9 850.6,468.4 854.2,468.9 857.9,469.3 861.5,469.8 865.1,470.3 868.7,470.8 872.3,471.4 875.9,472 879.5,472.7 883.2,473.3 886.8,473.9 890.4,474.6 894,475.4 897.6,476.2 901.2,477.3 904.9,478.6 908.5,480.3 912.1,483.8 915.7,488.9 919.3,494.3 922.9,499 926.5,503 930.2,506.9 933.8,510.3 937.4,512.9 941,515.2 944.6,517.2 948.2,519.1 951.9,520.8 955.5,522.3 959.1,523.9 962.7,525.2 966.3,526.5 969.9,527.8 973.5,528.9 977.2,530.1 980.8,531.3 984.4,532.3 988,533.3 991.6,534.3 995.2,535.3 998.8,536.5 1002.5,537.9 1006.1,539.3 1009.7,540.9 1013.3,542.9 1016.9,545.6 1020.5,550.6 1024.2,556.8 1027.8,562.4 1031.4,568 1035,573.7 1035,688.9 1029.6,680.3 1024.1,671.7 1018.7,663.2 1013.2,654.8 1007.8,646.4 1002.3,638.1 996.9,629.9 991.4,621.7 986,613.5 980.5,605.4 975.1,597.4 969.7,589.4 964.2,581.6 958.8,573.8 953.3,565.8 947.9,557.2 942.4,549.1 937,542.4 931.5,537.7 926.1,533.9 920.6,530.6 915.2,527.8 909.8,525.1 904.3,522.6 898.9,520.4 893.4,518.3 888,516.3 882.5,514.4 877.1,512.5 871.6,510.5 866.2,508.7 860.7,507 855.3,505.3 849.9,503.5 844.4,501.6 839,499.6 833.5,497.3 828.1,494.6 822.6,491.6 817.2,488.8 811.7,486.4 806.3,484.2 800.8,482.1 795.4,480.2 789.9,478.4 784.5,476.6 779.1,474.9 773.6,473.4 768.2,472.1 762.7,471.2 757.3,470.5 751.8,469.8 746.4,469.2 740.9,468.7 735.5,468.2 730,467.8 724.6,467.3 719.2,466.9 713.7,466.5 708.3,466.1 702.8,465.7 697.4,465.4 691.9,465.1 686.5,464.7 681,464.4 675.6,464.1 670.1,463.8 664.7,463.5 659.3,463.2 653.8,462.8 648.4,462.4 642.9,462 637.5,461.6 632,461.1 626.6,460.6 621.1,460.1 615.7,459.5 610.2,459 604.8,458.4" fill="#1A9EA4" fill-opacity="0.115" stroke="none"/>
<polyline class="e" stroke="#1A9EA4" points="604.8,355.9 608.4,359.7 612,363.3 615.6,366.7 619.3,369.7 622.9,372.5 626.5,375.1 630.1,377.6 633.7,379.9 637.3,382.1 641,384.2 644.6,386.3 648.2,388.3 651.8,390.2 655.4,392.1 659,393.9 662.6,395.6 666.3,397.3 669.9,399 673.5,400.7 677.1,402.3 680.7,403.9 684.3,405.5 687.9,407.1 691.6,408.7 695.2,410.4 698.8,412.3 702.4,414.4 706,416.6 709.6,418.7 713.3,420.6 716.9,422.4 720.5,424 724.1,425.5 727.7,427 731.3,428.5 734.9,429.9 738.6,431.2 742.2,432.6 745.8,433.9 749.4,435.2 753,436.5 756.6,437.8 760.3,439.2 763.9,440.6 767.5,442 771.1,443.4 774.7,444.8 778.3,446.3 781.9,447.7 785.6,449.1 789.2,450.5 792.8,451.9 796.4,453.2 800,454.5 803.6,455.8 807.2,457.1 810.9,458.4 814.5,459.7 818.1,461 821.7,462.2 825.3,463.3 828.9,464.3 832.6,465.3 836.2,466 839.8,466.7 843.4,467.3 847,467.9 850.6,468.4 854.2,468.9 857.9,469.3 861.5,469.8 865.1,470.3 868.7,470.8 872.3,471.4 875.9,472 879.5,472.7 883.2,473.3 886.8,473.9 890.4,474.6 894,475.4 897.6,476.2 901.2,477.3 904.9,478.6 908.5,480.3 912.1,483.8 915.7,488.9 919.3,494.3 922.9,499 926.5,503 930.2,506.9 933.8,510.3 937.4,512.9 941,515.2 944.6,517.2 948.2,519.1 951.9,520.8 955.5,522.3 959.1,523.9 962.7,525.2 966.3,526.5 969.9,527.8 973.5,528.9 977.2,530.1 980.8,531.3 984.4,532.3 988,533.3 991.6,534.3 995.2,535.3 998.8,536.5 1002.5,537.9 1006.1,539.3 1009.7,540.9 1013.3,542.9 1016.9,545.6 1020.5,550.6 1024.2,556.8 1027.8,562.4 1031.4,568 1035,573.7"/>
<polyline class="e" stroke="#1A9EA4" points="604.8,458.4 610.2,459 615.7,459.5 621.1,460.1 626.6,460.6 632,461.1 637.5,461.6 642.9,462 648.4,462.4 653.8,462.8 659.3,463.2 664.7,463.5 670.1,463.8 675.6,464.1 681,464.4 686.5,464.7 691.9,465.1 697.4,465.4 702.8,465.7 708.3,466.1 713.7,466.5 719.2,466.9 724.6,467.3 730,467.8 735.5,468.2 740.9,468.7 746.4,469.2 751.8,469.8 757.3,470.5 762.7,471.2 768.2,472.1 773.6,473.4 779.1,474.9 784.5,476.6 789.9,478.4 795.4,480.2 800.8,482.1 806.3,484.2 811.7,486.4 817.2,488.8 822.6,491.6 828.1,494.6 833.5,497.3 839,499.6 844.4,501.6 849.9,503.5 855.3,505.3 860.7,507 866.2,508.7 871.6,510.5 877.1,512.5 882.5,514.4 888,516.3 893.4,518.3 898.9,520.4 904.3,522.6 909.8,525.1 915.2,527.8 920.6,530.6 926.1,533.9 931.5,537.7 937,542.4 942.4,549.1 947.9,557.2 953.3,565.8 958.8,573.8 964.2,581.6 969.7,589.4 975.1,597.4 980.5,605.4 986,613.5 991.4,621.7 996.9,629.9 1002.3,638.1 1007.8,646.4 1013.2,654.8 1018.7,663.2 1024.1,671.7 1029.6,680.3 1035,688.9"/>
<polygon points="604.8,465.3 618.9,471 637.7,465.3 651.5,474.1 665.4,477.3 683,476 698,479.2 715,478.8 731.3,472.9 747.7,479.2 790.4,480.4 815.5,483 835,483 866.4,481.5 885.3,480.2 906.6,480.2 923,496.5 935.5,510.5 944.3,513 971.3,515.3 982.3,529.6 1001,537.3 1016.3,546 1035,555.8 1035,606.8 1016.3,592 1001,580 986.6,572 971.3,552 952.6,545 935.5,533 923,520.4 916.7,514.1 907.3,501.6 891.5,497.8 872.7,498.4 835,498.5 790.4,497.4 747.7,497.8 731.3,493 715,497 701.8,499.3 683,498 651.5,500.5 636.5,501.2 618.9,508.7 604.8,506.8" fill="#A25CEA" fill-opacity="0.115" stroke="none"/>
<polyline class="e" stroke="#A25CEA" points="604.8,465.3 618.9,471 637.7,465.3 651.5,474.1 665.4,477.3 683,476 698,479.2 715,478.8 731.3,472.9 747.7,479.2 790.4,480.4 815.5,483 835,483 866.4,481.5 885.3,480.2 906.6,480.2 923,496.5 935.5,510.5 944.3,513 971.3,515.3 982.3,529.6 1001,537.3 1016.3,546 1035,555.8"/>
<polyline class="e" stroke="#A25CEA" points="604.8,506.8 618.9,508.7 636.5,501.2 651.5,500.5 683,498 701.8,499.3 715,497 731.3,493 747.7,497.8 790.4,497.4 835,498.5 872.7,498.4 891.5,497.8 907.3,501.6 916.7,514.1 923,520.4 935.5,533 952.6,545 971.3,552 986.6,572 1001,580 1016.3,592 1035,606.8"/>
<polyline class="c" stroke="#DE5058" points="604.8,348.4 1035,615.3"/>
<polyline class="c" stroke="#6C961C" points="604.8,435.3 614.4,434 623.9,433 633.5,432.2 643,431.6 652.6,431.4 662.2,431.3 671.7,431.5 681.3,432 690.8,432.7 700.4,433.7 710,434.9 719.5,436.3 729.1,438 738.6,440 748.2,442.2 757.8,444.7 767.3,447.4 776.9,450.3 786.4,453.5 796,457 805.6,460.7 815.1,464.6 824.7,468.8 834.2,473.3 843.8,478 853.4,482.9 862.9,488.1 872.5,493.6 882,499.3 891.6,505.2 901.2,511.4 910.7,517.9 920.3,524.5 929.8,531.5 939.4,538.7 949,546.1 958.5,553.8 968.1,561.8 977.6,569.9 987.2,578.4 996.8,587.1 1006.3,596 1015.9,605.2 1025.4,614.6 1035,624.3"/>
<polyline class="c" stroke="#1A9EA4" points="604.8,420.7 715,447.8 835,476.3 875.8,486.5 907.3,497.8 1035,651.3"/>
<polyline class="c" stroke="#A25CEA" points="604.8,485.4 618.9,489.8 636.5,483.6 651.5,488 667.9,489 683,487.3 699.3,490.5 715,488.6 731.3,483.9 747.7,488 790.4,488 815.5,489.8 835,489.6 860.1,491.5 872.7,489 885.3,488.4 895.3,490.9 907.3,490.3 916.7,502.8 923,511.6 935.5,522.9 944.3,528.6 952.6,530.7 971.3,536.2 986.6,557 1001,561.4 1016.3,570.2 1035,583"/>
<rect x="583.5" y="31.9" width="472.5" height="746.1" fill="none" stroke="#484848" stroke-width="1.3"/>
<g class="tick">
<line x1="598.8" x2="598.8" y1="778" y2="783.6"/>
<line x1="737.4" x2="737.4" y1="778" y2="783.6"/>
<line x1="875.7" x2="875.7" y1="778" y2="783.6"/>
<line x1="1014" x2="1014" y1="778" y2="783.6"/>
</g>
<text class="ax" x="599.1" y="804.4" text-anchor="middle">24</text>
<text class="ax" x="737.7" y="804.4" text-anchor="middle">26</text>
<text class="ax" x="876" y="804.4" text-anchor="middle">28</text>
<text class="ax" x="1014.3" y="804.4" text-anchor="middle">30</text>
<g class="grid">
<line x1="1081" x2="1553.5" y1="42" y2="42"/>
<line x1="1081" x2="1553.5" y1="183" y2="183"/>
<line x1="1081" x2="1553.5" y1="324" y2="324"/>
<line x1="1081" x2="1553.5" y1="465" y2="465"/>
<line x1="1081" x2="1553.5" y1="606" y2="606"/>
<line x1="1081" x2="1553.5" y1="747.1" y2="747.1"/>
<line x1="1210.6" x2="1210.6" y1="31.9" y2="778"/>
<line x1="1378.1" x2="1378.1" y1="31.9" y2="778"/>
<line x1="1545.5" x2="1545.5" y1="31.9" y2="778"/>
</g>
<polygon points="1103,503.6 1112.5,502.9 1122.1,502.2 1131.6,501.5 1141.1,500.8 1150.7,500.1 1160.2,499.3 1169.7,498.6 1179.3,497.8 1188.8,497.1 1198.4,496.3 1207.9,495.5 1217.4,494.6 1227,493.8 1236.5,492.9 1246,491.9 1255.6,490.9 1265.1,489.9 1274.6,488.8 1284.2,487.6 1293.7,486.3 1303.2,485 1312.8,483.6 1322.3,482.1 1331.9,480.6 1341.4,479.1 1350.9,477.5 1360.5,475.8 1370,474.2 1379.5,472.5 1389.1,470.8 1398.6,469.1 1408.1,467.3 1417.7,465.6 1427.2,463.8 1436.7,462 1446.3,460.2 1455.8,458.5 1465.4,456.7 1474.9,454.9 1484.4,453.1 1494,451.3 1503.5,449.4 1513,447.6 1522.6,445.8 1532.1,444 1532.1,475 1522.6,475.7 1513,476.5 1503.5,477.2 1494,477.9 1484.4,478.7 1474.9,479.4 1465.4,480.2 1455.8,480.9 1446.3,481.7 1436.7,482.4 1427.2,483.2 1417.7,484 1408.1,484.8 1398.6,485.6 1389.1,486.4 1379.5,487.3 1370,488.1 1360.5,489 1350.9,489.9 1341.4,490.9 1331.9,491.8 1322.3,492.9 1312.8,494 1303.2,495.1 1293.7,496.3 1284.2,497.6 1274.6,499 1265.1,500.4 1255.6,501.9 1246,503.5 1236.5,505.1 1227,506.7 1217.4,508.4 1207.9,510.1 1198.4,511.9 1188.8,513.6 1179.3,515.4 1169.7,517.2 1160.2,519 1150.7,520.8 1141.1,522.6 1131.6,524.5 1122.1,526.3 1112.5,528.1 1103,530" fill="#DE5058" fill-opacity="0.115" stroke="none"/>
<polyline class="e" stroke="#DE5058" points="1103,503.6 1112.5,502.9 1122.1,502.2 1131.6,501.5 1141.1,500.8 1150.7,500.1 1160.2,499.3 1169.7,498.6 1179.3,497.8 1188.8,497.1 1198.4,496.3 1207.9,495.5 1217.4,494.6 1227,493.8 1236.5,492.9 1246,491.9 1255.6,490.9 1265.1,489.9 1274.6,488.8 1284.2,487.6 1293.7,486.3 1303.2,485 1312.8,483.6 1322.3,482.1 1331.9,480.6 1341.4,479.1 1350.9,477.5 1360.5,475.8 1370,474.2 1379.5,472.5 1389.1,470.8 1398.6,469.1 1408.1,467.3 1417.7,465.6 1427.2,463.8 1436.7,462 1446.3,460.2 1455.8,458.5 1465.4,456.7 1474.9,454.9 1484.4,453.1 1494,451.3 1503.5,449.4 1513,447.6 1522.6,445.8 1532.1,444"/>
<polyline class="e" stroke="#DE5058" points="1103,530 1112.5,528.1 1122.1,526.3 1131.6,524.5 1141.1,522.6 1150.7,520.8 1160.2,519 1169.7,517.2 1179.3,515.4 1188.8,513.6 1198.4,511.9 1207.9,510.1 1217.4,508.4 1227,506.7 1236.5,505.1 1246,503.5 1255.6,501.9 1265.1,500.4 1274.6,499 1284.2,497.6 1293.7,496.3 1303.2,495.1 1312.8,494 1322.3,492.9 1331.9,491.8 1341.4,490.9 1350.9,489.9 1360.5,489 1370,488.1 1379.5,487.3 1389.1,486.4 1398.6,485.6 1408.1,484.8 1417.7,484 1427.2,483.2 1436.7,482.4 1446.3,481.7 1455.8,480.9 1465.4,480.2 1474.9,479.4 1484.4,478.7 1494,477.9 1503.5,477.2 1513,476.5 1522.6,475.7 1532.1,475"/>
<polygon points="1103,550.2 1112.5,543.3 1122.1,536.8 1131.6,530.7 1141.1,524.8 1150.7,519.3 1160.2,514.1 1169.7,509.2 1179.3,504.5 1188.8,500.1 1198.4,495.8 1207.9,491.7 1217.4,487.9 1227,484.3 1236.5,481 1246,477.8 1255.6,474.9 1265.1,472.2 1274.6,469.6 1284.2,467.3 1293.7,465.1 1303.2,463 1312.8,461.2 1322.3,459.5 1331.9,458 1341.4,456.8 1350.9,455.5 1360.5,454.3 1370,453.2 1379.5,452.5 1389.1,451.9 1398.6,451.6 1408.1,451.6 1417.7,451.8 1427.2,452.3 1436.7,453 1446.3,453.8 1455.8,454.4 1465.4,455 1474.9,456.3 1484.4,458 1494,460 1503.5,462 1513,464.2 1522.6,466.5 1532.1,469 1532.1,498.3 1522.6,495 1513,491.9 1503.5,488.9 1494,486 1484.4,483.2 1474.9,480.6 1465.4,478.2 1455.8,476 1446.3,474.1 1436.7,472.5 1427.2,471.3 1417.7,470.4 1408.1,469.6 1398.6,469.2 1389.1,469 1379.5,469.1 1370,469.5 1360.5,470.1 1350.9,470.9 1341.4,471.9 1331.9,473.1 1322.3,474.5 1312.8,476.2 1303.2,478 1293.7,480.1 1284.2,482.5 1274.6,485.1 1265.1,488 1255.6,491.2 1246,494.7 1236.5,498.4 1227,502.4 1217.4,506.6 1207.9,511.2 1198.4,516 1188.8,521.1 1179.3,526.5 1169.7,532.3 1160.2,538.5 1150.7,545 1141.1,551.8 1131.6,559.1 1122.1,566.8 1112.5,575 1103,583.6" fill="#6C961C" fill-opacity="0.115" stroke="none"/>
<polyline class="e" stroke="#6C961C" points="1103,550.2 1112.5,543.3 1122.1,536.8 1131.6,530.7 1141.1,524.8 1150.7,519.3 1160.2,514.1 1169.7,509.2 1179.3,504.5 1188.8,500.1 1198.4,495.8 1207.9,491.7 1217.4,487.9 1227,484.3 1236.5,481 1246,477.8 1255.6,474.9 1265.1,472.2 1274.6,469.6 1284.2,467.3 1293.7,465.1 1303.2,463 1312.8,461.2 1322.3,459.5 1331.9,458 1341.4,456.8 1350.9,455.5 1360.5,454.3 1370,453.2 1379.5,452.5 1389.1,451.9 1398.6,451.6 1408.1,451.6 1417.7,451.8 1427.2,452.3 1436.7,453 1446.3,453.8 1455.8,454.4 1465.4,455 1474.9,456.3 1484.4,458 1494,460 1503.5,462 1513,464.2 1522.6,466.5 1532.1,469"/>
<polyline class="e" stroke="#6C961C" points="1103,583.6 1112.5,575 1122.1,566.8 1131.6,559.1 1141.1,551.8 1150.7,545 1160.2,538.5 1169.7,532.3 1179.3,526.5 1188.8,521.1 1198.4,516 1207.9,511.2 1217.4,506.6 1227,502.4 1236.5,498.4 1246,494.7 1255.6,491.2 1265.1,488 1274.6,485.1 1284.2,482.5 1293.7,480.1 1303.2,478 1312.8,476.2 1322.3,474.5 1331.9,473.1 1341.4,471.9 1350.9,470.9 1360.5,470.1 1370,469.5 1379.5,469.1 1389.1,469 1398.6,469.2 1408.1,469.6 1417.7,470.4 1427.2,471.3 1436.7,472.5 1446.3,474.1 1455.8,476 1465.4,478.2 1474.9,480.6 1484.4,483.2 1494,486 1503.5,488.9 1513,491.9 1522.6,495 1532.1,498.3"/>
<polygon points="1103,573.4 1107.3,569 1111.7,564.7 1116,560.3 1120.3,556 1124.7,551.7 1129,547.4 1133.3,543.1 1137.7,538.8 1142,534.5 1146.3,530.3 1150.7,526.1 1155,521.8 1159.3,517.6 1163.7,513.3 1168,509 1172.3,504.6 1176.7,500.2 1181,495.6 1185.4,490.6 1189.7,485.4 1194,480.3 1198.4,475.8 1202.7,471.8 1207,467.9 1211.4,464.4 1215.7,461.7 1220,459.9 1224.4,458.5 1228.7,457.3 1233,456.4 1237.4,455.7 1241.7,455.1 1246,454.5 1250.4,454.1 1254.7,453.8 1259,453.7 1263.4,453.8 1267.7,454.1 1272,454.4 1276.4,454.8 1280.7,455.2 1285,455.6 1289.4,456.1 1293.7,456.7 1298,457.2 1302.4,457.8 1306.7,458.4 1311,459.1 1315.4,459.7 1319.7,460.4 1324.1,461.1 1328.4,461.7 1332.7,462.4 1337.1,463 1341.4,463.6 1345.7,464.3 1350.1,464.9 1354.4,465.5 1358.7,466.1 1363.1,466.7 1367.4,467.3 1371.7,467.9 1376.1,468.4 1380.4,469 1384.7,469.5 1389.1,470.1 1393.4,470.6 1397.7,471.1 1402.1,471.7 1406.4,472.2 1410.7,472.7 1415.1,473.2 1419.4,473.7 1423.7,474.1 1428.1,474.6 1432.4,475 1436.7,475.5 1441.1,475.9 1445.4,476.4 1449.7,476.8 1454.1,477.2 1458.4,477.6 1462.8,478 1467.1,478.4 1471.4,478.7 1475.8,479.1 1480.1,479.3 1484.4,479.6 1488.8,479.8 1493.1,480 1497.4,480.2 1501.8,480.4 1506.1,480.6 1510.4,480.8 1514.8,481 1519.1,481.1 1523.4,481.2 1527.8,481.3 1532.1,481.4 1532.1,512.7 1527.8,511.9 1523.4,511.1 1519.1,510.3 1514.8,509.5 1510.4,508.8 1506.1,508 1501.8,507.3 1497.4,506.6 1493.1,505.9 1488.8,505.2 1484.4,504.6 1480.1,504 1475.8,503.4 1471.4,502.9 1467.1,502.3 1462.8,501.8 1458.4,501.3 1454.1,500.8 1449.7,500.3 1445.4,499.8 1441.1,499.3 1436.7,498.7 1432.4,498.1 1428.1,497.4 1423.7,496.5 1419.4,495.6 1415.1,494.7 1410.7,493.7 1406.4,492.7 1402.1,491.7 1397.7,490.8 1393.4,489.9 1389.1,489.1 1384.7,488.5 1380.4,488 1376.1,487.7 1371.7,487.4 1367.4,487.2 1363.1,487 1358.7,486.8 1354.4,486.7 1350.1,486.5 1345.7,486.3 1341.4,486.1 1337.1,485.8 1332.7,485.4 1328.4,484.9 1324.1,484.3 1319.7,483.7 1315.4,483 1311,482.3 1306.7,481.5 1302.4,480.8 1298,480 1293.7,479.3 1289.4,478.6 1285,478 1280.7,477.4 1276.4,476.9 1272,476.5 1267.7,476.2 1263.4,476 1259,476 1254.7,476.5 1250.4,477.5 1246,478.8 1241.7,480.4 1237.4,482.2 1233,485.2 1228.7,488.9 1224.4,493 1220,497 1215.7,500.7 1211.4,504.3 1207,507.9 1202.7,511.7 1198.4,515.4 1194,519.3 1189.7,523.2 1185.4,527.1 1181,531.1 1176.7,535.1 1172.3,539.2 1168,543.3 1163.7,547.5 1159.3,551.6 1155,555.8 1150.7,560.1 1146.3,564.4 1142,568.7 1137.7,573.1 1133.3,577.4 1129,581.9 1124.7,586.3 1120.3,590.8 1116,595.4 1111.7,599.9 1107.3,604.5 1103,609.2" fill="#1A9EA4" fill-opacity="0.115" stroke="none"/>
<polyline class="e" stroke="#1A9EA4" points="1103,573.4 1107.3,569 1111.7,564.7 1116,560.3 1120.3,556 1124.7,551.7 1129,547.4 1133.3,543.1 1137.7,538.8 1142,534.5 1146.3,530.3 1150.7,526.1 1155,521.8 1159.3,517.6 1163.7,513.3 1168,509 1172.3,504.6 1176.7,500.2 1181,495.6 1185.4,490.6 1189.7,485.4 1194,480.3 1198.4,475.8 1202.7,471.8 1207,467.9 1211.4,464.4 1215.7,461.7 1220,459.9 1224.4,458.5 1228.7,457.3 1233,456.4 1237.4,455.7 1241.7,455.1 1246,454.5 1250.4,454.1 1254.7,453.8 1259,453.7 1263.4,453.8 1267.7,454.1 1272,454.4 1276.4,454.8 1280.7,455.2 1285,455.6 1289.4,456.1 1293.7,456.7 1298,457.2 1302.4,457.8 1306.7,458.4 1311,459.1 1315.4,459.7 1319.7,460.4 1324.1,461.1 1328.4,461.7 1332.7,462.4 1337.1,463 1341.4,463.6 1345.7,464.3 1350.1,464.9 1354.4,465.5 1358.7,466.1 1363.1,466.7 1367.4,467.3 1371.7,467.9 1376.1,468.4 1380.4,469 1384.7,469.5 1389.1,470.1 1393.4,470.6 1397.7,471.1 1402.1,471.7 1406.4,472.2 1410.7,472.7 1415.1,473.2 1419.4,473.7 1423.7,474.1 1428.1,474.6 1432.4,475 1436.7,475.5 1441.1,475.9 1445.4,476.4 1449.7,476.8 1454.1,477.2 1458.4,477.6 1462.8,478 1467.1,478.4 1471.4,478.7 1475.8,479.1 1480.1,479.3 1484.4,479.6 1488.8,479.8 1493.1,480 1497.4,480.2 1501.8,480.4 1506.1,480.6 1510.4,480.8 1514.8,481 1519.1,481.1 1523.4,481.2 1527.8,481.3 1532.1,481.4"/>
<polyline class="e" stroke="#1A9EA4" points="1103,609.2 1107.3,604.5 1111.7,599.9 1116,595.4 1120.3,590.8 1124.7,586.3 1129,581.9 1133.3,577.4 1137.7,573.1 1142,568.7 1146.3,564.4 1150.7,560.1 1155,555.8 1159.3,551.6 1163.7,547.5 1168,543.3 1172.3,539.2 1176.7,535.1 1181,531.1 1185.4,527.1 1189.7,523.2 1194,519.3 1198.4,515.4 1202.7,511.7 1207,507.9 1211.4,504.3 1215.7,500.7 1220,497 1224.4,493 1228.7,488.9 1233,485.2 1237.4,482.2 1241.7,480.4 1246,478.8 1250.4,477.5 1254.7,476.5 1259,476 1263.4,476 1267.7,476.2 1272,476.5 1276.4,476.9 1280.7,477.4 1285,478 1289.4,478.6 1293.7,479.3 1298,480 1302.4,480.8 1306.7,481.5 1311,482.3 1315.4,483 1319.7,483.7 1324.1,484.3 1328.4,484.9 1332.7,485.4 1337.1,485.8 1341.4,486.1 1345.7,486.3 1350.1,486.5 1354.4,486.7 1358.7,486.8 1363.1,487 1367.4,487.2 1371.7,487.4 1376.1,487.7 1380.4,488 1384.7,488.5 1389.1,489.1 1393.4,489.9 1397.7,490.8 1402.1,491.7 1406.4,492.7 1410.7,493.7 1415.1,494.7 1419.4,495.6 1423.7,496.5 1428.1,497.4 1432.4,498.1 1436.7,498.7 1441.1,499.3 1445.4,499.8 1449.7,500.3 1454.1,500.8 1458.4,501.3 1462.8,501.8 1467.1,502.3 1471.4,502.9 1475.8,503.4 1480.1,504 1484.4,504.6 1488.8,505.2 1493.1,505.9 1497.4,506.6 1501.8,507.3 1506.1,508 1510.4,508.8 1514.8,509.5 1519.1,510.3 1523.4,511.1 1527.8,511.9 1532.1,512.7"/>
<polygon points="1103,609.2 1120.8,585.4 1130.8,563.5 1140.7,535.7 1160.6,525.7 1170.5,509.8 1180.5,497.9 1202.6,494.2 1219,467.1 1239,465.2 1280.6,462 1299.4,465.2 1317,438.9 1334.6,466.5 1355.5,455.9 1368.3,468.7 1400,472 1432,474 1457.5,474 1495.8,470 1513.6,467.4 1532.1,470 1532.1,512.7 1513.6,505 1483,501.8 1451.2,503.7 1432,499.3 1400.1,500.5 1378.2,498 1355.5,485.2 1335.9,491.6 1317,470.3 1296.9,488.5 1280.6,484.1 1242.8,492 1217.7,497.9 1200.1,526.8 1180.5,526.7 1170.5,543.6 1160.6,561.5 1140.7,577.4 1130.8,599.3 1122.8,625.1 1103,655" fill="#A25CEA" fill-opacity="0.115" stroke="none"/>
<polyline class="e" stroke="#A25CEA" points="1103,609.2 1120.8,585.4 1130.8,563.5 1140.7,535.7 1160.6,525.7 1170.5,509.8 1180.5,497.9 1202.6,494.2 1219,467.1 1239,465.2 1280.6,462 1299.4,465.2 1317,438.9 1334.6,466.5 1355.5,455.9 1368.3,468.7 1400,472 1432,474 1457.5,474 1495.8,470 1513.6,467.4 1532.1,470"/>
<polyline class="e" stroke="#A25CEA" points="1103,655 1122.8,625.1 1130.8,599.3 1140.7,577.4 1160.6,561.5 1170.5,543.6 1180.5,526.7 1200.1,526.8 1217.7,497.9 1242.8,492 1280.6,484.1 1296.9,488.5 1317,470.3 1335.9,491.6 1355.5,485.2 1378.2,498 1400.1,500.5 1432,499.3 1451.2,503.7 1483,501.8 1513.6,505 1532.1,512.7"/>
<polyline class="c" stroke="#DE5058" points="1103,516.8 1532.1,459.5"/>
<polyline class="c" stroke="#6C961C" points="1103,566.7 1112.5,559.1 1122.1,551.9 1131.6,545.1 1141.1,538.6 1150.7,532.4 1160.2,526.5 1169.7,520.9 1179.3,515.6 1188.8,510.6 1198.4,505.9 1207.9,501.5 1217.4,497.3 1227,493.3 1236.5,489.7 1246,486.2 1255.6,483.1 1265.1,480.1 1274.6,477.4 1284.2,474.9 1293.7,472.6 1303.2,470.5 1312.8,468.7 1322.3,467 1331.9,465.6 1341.4,464.4 1350.9,463.3 1360.5,462.5 1370,461.9 1379.5,461.5 1389.1,461.3 1398.6,461.3 1408.1,461.5 1417.7,461.9 1427.2,462.5 1436.7,463.3 1446.3,464.3 1455.8,465.6 1465.4,467 1474.9,468.7 1484.4,470.6 1494,472.7 1503.5,475.1 1513,477.7 1522.6,480.5 1532.1,483.6"/>
<polyline class="c" stroke="#1A9EA4" points="1103,592.3 1180,515.5 1198.9,496.7 1217.7,479.1 1239.1,465.9 1257.9,465 1280.6,466.5 1305.7,470.3 1340,474.7 1378.2,478.9 1432,486.5 1483,492.9 1532.1,497.7"/>
<polyline class="c" stroke="#A25CEA" points="1103,631.1 1120.8,607.2 1128.8,587.4 1140.7,557.5 1160.6,544.6 1170.5,528.7 1180.5,511.8 1198.9,513 1219,481.6 1242.8,479.7 1280.6,474.7 1296.9,478.4 1317,457.1 1335.9,479.1 1355.5,472.5 1378.2,486.5 1400.1,489.1 1432,486.5 1457.5,487.8 1495.8,486.5 1513.6,485.9 1532.1,490.6"/>
<rect x="1081" y="31.9" width="472.5" height="746.1" fill="none" stroke="#484848" stroke-width="1.3"/>
<g class="tick">
<line x1="1210.6" x2="1210.6" y1="778" y2="783.6"/>
<line x1="1378.1" x2="1378.1" y1="778" y2="783.6"/>
<line x1="1545.5" x2="1545.5" y1="778" y2="783.6"/>
</g>
<text class="ax" x="1210.9" y="804.4" text-anchor="middle">500</text>
<text class="ax" x="1378.4" y="804.4" text-anchor="middle">1000</text>
<text class="ax" x="1545.8" y="804.4" text-anchor="middle">1500</text>
<polygon points="105.4,948.8 105.4,890.9 108.1,885.7 110.8,880.7 113.5,876 116.2,871.6 118.9,867.7 121.6,864.2 124.3,861.1 127,858.4 129.7,856.1 132.4,854 135.1,852.3 137.8,850.8 140.5,849.5 143.2,848.3 145.9,847.3 148.5,846.3 151.2,845.4 153.9,844.5 156.6,843.7 159.3,843 162,842.4 164.7,841.9 167.4,841.4 170.1,841 172.8,840.7 175.5,840.5 178.2,840.3 180.9,840.3 183.6,840.3 186.3,840.4 189,840.7 191.7,841 194.4,841.4 197.1,841.9 199.8,842.4 202.5,842.9 205.2,843.4 207.9,844 210.6,844.5 213.3,845.1 216,845.6 218.7,846.2 221.4,846.7 224.1,847.2 226.8,847.7 229.5,848.2 232.2,848.7 234.8,849.2 237.5,849.6 240.2,850.1 242.9,850.4 245.6,850.8 248.3,851.1 251,851.4 253.7,851.6 256.4,851.9 259.1,852.1 261.8,852.3 264.5,852.4 267.2,852.5 269.9,852.5 272.6,852.5 275.3,852.4 278,852.3 280.7,852.1 283.4,851.7 286.1,851.3 288.8,850.8 291.5,850.2 294.2,849.6 296.9,848.9 299.6,848.1 302.3,847.4 305,846.6 307.7,845.8 310.4,845 313.1,844.3 315.8,843.6 318.5,843 321.1,842.4 323.8,841.8 326.5,841.3 329.2,840.8 331.9,840.4 334.6,840.1 337.3,839.8 340,839.7 342.7,839.8 345.4,839.9 348.1,840.2 350.8,840.6 353.5,841.2 356.2,841.8 358.9,842.5 361.6,843.2 364.3,844 367,844.8 369.7,845.5 372.4,846.3 375.1,846.9 377.8,847.6 380.5,848.1 383.2,848.7 385.9,849.2 388.6,849.6 391.3,850 394,850.4 396.7,850.6 399.4,850.8 402.1,851 404.8,851.1 407.4,851.1 410.1,851.1 412.8,851.1 415.5,851.1 418.2,851 420.9,851 423.6,850.9 426.3,850.8 429,850.7 431.7,850.5 434.4,850.4 437.1,850.2 439.8,850 442.5,849.8 445.2,849.5 447.9,849.3 450.6,849.1 453.3,848.9 456,848.8 458.7,848.6 461.4,848.6 464.1,848.6 466.8,848.6 469.5,848.8 472.2,849.1 474.9,849.5 477.6,850.2 480.3,850.9 483,851.9 485.7,853.1 488.4,854.5 491.1,856 493.7,857.8 496.4,859.8 499.1,861.9 501.8,864.3 504.5,867 507.2,869.8 509.9,872.9 512.6,876.2 515.3,879.7 518,883.4 520.7,887.3 523.4,891.3 526.1,895.5 528.8,899.9 531.5,904.4 534.2,909 534.2,948.8" fill="#bebebe" stroke="none"/>
<polyline points="105.4,890.9 108.1,885.7 110.8,880.7 113.5,876 116.2,871.6 118.9,867.7 121.6,864.2 124.3,861.1 127,858.4 129.7,856.1 132.4,854 135.1,852.3 137.8,850.8 140.5,849.5 143.2,848.3 145.9,847.3 148.5,846.3 151.2,845.4 153.9,844.5 156.6,843.7 159.3,843 162,842.4 164.7,841.9 167.4,841.4 170.1,841 172.8,840.7 175.5,840.5 178.2,840.3 180.9,840.3 183.6,840.3 186.3,840.4 189,840.7 191.7,841 194.4,841.4 197.1,841.9 199.8,842.4 202.5,842.9 205.2,843.4 207.9,844 210.6,844.5 213.3,845.1 216,845.6 218.7,846.2 221.4,846.7 224.1,847.2 226.8,847.7 229.5,848.2 232.2,848.7 234.8,849.2 237.5,849.6 240.2,850.1 242.9,850.4 245.6,850.8 248.3,851.1 251,851.4 253.7,851.6 256.4,851.9 259.1,852.1 261.8,852.3 264.5,852.4 267.2,852.5 269.9,852.5 272.6,852.5 275.3,852.4 278,852.3 280.7,852.1 283.4,851.7 286.1,851.3 288.8,850.8 291.5,850.2 294.2,849.6 296.9,848.9 299.6,848.1 302.3,847.4 305,846.6 307.7,845.8 310.4,845 313.1,844.3 315.8,843.6 318.5,843 321.1,842.4 323.8,841.8 326.5,841.3 329.2,840.8 331.9,840.4 334.6,840.1 337.3,839.8 340,839.7 342.7,839.8 345.4,839.9 348.1,840.2 350.8,840.6 353.5,841.2 356.2,841.8 358.9,842.5 361.6,843.2 364.3,844 367,844.8 369.7,845.5 372.4,846.3 375.1,846.9 377.8,847.6 380.5,848.1 383.2,848.7 385.9,849.2 388.6,849.6 391.3,850 394,850.4 396.7,850.6 399.4,850.8 402.1,851 404.8,851.1 407.4,851.1 410.1,851.1 412.8,851.1 415.5,851.1 418.2,851 420.9,851 423.6,850.9 426.3,850.8 429,850.7 431.7,850.5 434.4,850.4 437.1,850.2 439.8,850 442.5,849.8 445.2,849.5 447.9,849.3 450.6,849.1 453.3,848.9 456,848.8 458.7,848.6 461.4,848.6 464.1,848.6 466.8,848.6 469.5,848.8 472.2,849.1 474.9,849.5 477.6,850.2 480.3,850.9 483,851.9 485.7,853.1 488.4,854.5 491.1,856 493.7,857.8 496.4,859.8 499.1,861.9 501.8,864.3 504.5,867 507.2,869.8 509.9,872.9 512.6,876.2 515.3,879.7 518,883.4 520.7,887.3 523.4,891.3 526.1,895.5 528.8,899.9 531.5,904.4 534.2,909" fill="none" stroke="#E6505A" stroke-width="1.6" stroke-linejoin="round"/>
<rect x="84.3" y="834.7" width="471.1" height="119.5" fill="none" stroke="#6e6e6e" stroke-width="1.1"/>
<polygon points="606.4,948.8 606.4,941.9 609.1,940.5 611.8,939.2 614.5,937.9 617.2,936.7 619.9,935.6 622.6,934.6 625.3,933.7 628,932.8 630.7,932 633.4,931.3 636.1,930.5 638.8,929.8 641.5,929 644.2,928.2 646.9,927.5 649.5,926.7 652.2,926 654.9,925.2 657.6,924.5 660.3,923.8 663,923.1 665.7,922.4 668.4,921.7 671.1,921 673.8,920.3 676.5,919.6 679.2,918.9 681.9,918.2 684.6,917.5 687.3,916.8 690,916.1 692.7,915.4 695.4,914.7 698.1,914 700.8,913.3 703.5,912.6 706.2,911.9 708.9,911.3 711.6,910.7 714.3,910.1 717,909.5 719.7,909 722.4,908.5 725.1,908.1 727.8,907.7 730.5,907.4 733.2,907.2 735.8,907 738.5,906.9 741.2,906.8 743.9,906.7 746.6,906.6 749.3,906.4 752,906.1 754.7,905.7 757.4,905.2 760.1,904.7 762.8,904 765.5,903.3 768.2,902.6 770.9,901.8 773.6,901.1 776.3,900.3 779,899.5 781.7,898.7 784.4,898 787.1,897.1 789.8,896.3 792.5,895.4 795.2,894.4 797.9,893.3 800.6,892 803.3,890.5 806,888.9 808.7,887.1 811.4,885.1 814.1,882.9 816.8,880.6 819.5,878.1 822.1,875.5 824.8,872.6 827.5,869.7 830.2,866.5 832.9,863.3 835.6,860 838.3,856.7 841,853.7 843.7,850.8 846.4,848.2 849.1,845.9 851.8,844 854.5,842.5 857.2,841.4 859.9,840.8 862.6,840.5 865.3,840.7 868,841.2 870.7,842.2 873.4,843.4 876.1,845.1 878.8,847 881.5,849.1 884.2,851.4 886.9,853.8 889.6,856.3 892.3,858.9 895,861.5 897.7,864.3 900.4,867.1 903.1,870 905.8,873 908.4,876.1 911.1,879.2 913.8,882.3 916.5,885.4 919.2,888.4 921.9,891.4 924.6,894.4 927.3,897.3 930,900.3 932.7,903.1 935.4,905.9 938.1,908.5 940.8,910.9 943.5,913.2 946.2,915.3 948.9,917.2 951.6,918.9 954.3,920.6 957,922 959.7,923.2 962.4,924.3 965.1,925.3 967.8,926.1 970.5,926.8 973.2,927.5 975.9,928 978.6,928.5 981.3,928.9 984,929.3 986.7,929.6 989.4,929.9 992.1,930.2 994.7,930.4 997.4,930.7 1000.1,931 1002.8,931.4 1005.5,931.8 1008.2,932.4 1010.9,933.1 1013.6,933.8 1016.3,934.7 1019,935.6 1021.7,936.6 1024.4,937.6 1027.1,938.7 1029.8,939.8 1032.5,940.9 1035.2,942 1035.2,948.8" fill="#bebebe" stroke="none"/>
<polyline points="606.4,941.9 609.1,940.5 611.8,939.2 614.5,937.9 617.2,936.7 619.9,935.6 622.6,934.6 625.3,933.7 628,932.8 630.7,932 633.4,931.3 636.1,930.5 638.8,929.8 641.5,929 644.2,928.2 646.9,927.5 649.5,926.7 652.2,926 654.9,925.2 657.6,924.5 660.3,923.8 663,923.1 665.7,922.4 668.4,921.7 671.1,921 673.8,920.3 676.5,919.6 679.2,918.9 681.9,918.2 684.6,917.5 687.3,916.8 690,916.1 692.7,915.4 695.4,914.7 698.1,914 700.8,913.3 703.5,912.6 706.2,911.9 708.9,911.3 711.6,910.7 714.3,910.1 717,909.5 719.7,909 722.4,908.5 725.1,908.1 727.8,907.7 730.5,907.4 733.2,907.2 735.8,907 738.5,906.9 741.2,906.8 743.9,906.7 746.6,906.6 749.3,906.4 752,906.1 754.7,905.7 757.4,905.2 760.1,904.7 762.8,904 765.5,903.3 768.2,902.6 770.9,901.8 773.6,901.1 776.3,900.3 779,899.5 781.7,898.7 784.4,898 787.1,897.1 789.8,896.3 792.5,895.4 795.2,894.4 797.9,893.3 800.6,892 803.3,890.5 806,888.9 808.7,887.1 811.4,885.1 814.1,882.9 816.8,880.6 819.5,878.1 822.1,875.5 824.8,872.6 827.5,869.7 830.2,866.5 832.9,863.3 835.6,860 838.3,856.7 841,853.7 843.7,850.8 846.4,848.2 849.1,845.9 851.8,844 854.5,842.5 857.2,841.4 859.9,840.8 862.6,840.5 865.3,840.7 868,841.2 870.7,842.2 873.4,843.4 876.1,845.1 878.8,847 881.5,849.1 884.2,851.4 886.9,853.8 889.6,856.3 892.3,858.9 895,861.5 897.7,864.3 900.4,867.1 903.1,870 905.8,873 908.4,876.1 911.1,879.2 913.8,882.3 916.5,885.4 919.2,888.4 921.9,891.4 924.6,894.4 927.3,897.3 930,900.3 932.7,903.1 935.4,905.9 938.1,908.5 940.8,910.9 943.5,913.2 946.2,915.3 948.9,917.2 951.6,918.9 954.3,920.6 957,922 959.7,923.2 962.4,924.3 965.1,925.3 967.8,926.1 970.5,926.8 973.2,927.5 975.9,928 978.6,928.5 981.3,928.9 984,929.3 986.7,929.6 989.4,929.9 992.1,930.2 994.7,930.4 997.4,930.7 1000.1,931 1002.8,931.4 1005.5,931.8 1008.2,932.4 1010.9,933.1 1013.6,933.8 1016.3,934.7 1019,935.6 1021.7,936.6 1024.4,937.6 1027.1,938.7 1029.8,939.8 1032.5,940.9 1035.2,942" fill="none" stroke="#E6505A" stroke-width="1.6" stroke-linejoin="round"/>
<rect x="585.2" y="834.7" width="471.4" height="119.5" fill="none" stroke="#6e6e6e" stroke-width="1.1"/>
<polygon points="1107.5,948.8 1107.5,934.6 1110.2,931.6 1112.9,928.6 1115.6,925.8 1118.3,923 1121,920.3 1123.7,917.7 1126.4,915.3 1129.1,913 1131.8,911 1134.5,909.2 1137.2,907.5 1139.9,906 1142.6,904.6 1145.2,903.2 1147.9,901.8 1150.6,900.4 1153.3,898.9 1156,897.3 1158.7,895.5 1161.4,893.6 1164.1,891.6 1166.8,889.5 1169.5,887.3 1172.2,885.1 1174.9,882.8 1177.6,880.5 1180.3,878.2 1183,876 1185.7,873.8 1188.4,871.7 1191.1,869.7 1193.8,867.8 1196.5,866 1199.2,864.2 1201.9,862.5 1204.6,860.9 1207.3,859.4 1210,857.9 1212.7,856.4 1215.3,855 1218,853.6 1220.7,852.2 1223.4,850.8 1226.1,849.3 1228.8,847.9 1231.5,846.5 1234.2,845.2 1236.9,844 1239.6,843 1242.3,842.1 1245,841.3 1247.7,840.7 1250.4,840.3 1253.1,840.1 1255.8,840 1258.5,840.2 1261.2,840.4 1263.9,840.8 1266.6,841.4 1269.3,842 1272,842.7 1274.7,843.5 1277.4,844.4 1280.1,845.3 1282.8,846.2 1285.5,847.2 1288.1,848.1 1290.8,849.2 1293.5,850.2 1296.2,851.4 1298.9,852.6 1301.6,854 1304.3,855.4 1307,856.9 1309.7,858.5 1312.4,860.2 1315.1,861.8 1317.8,863.5 1320.5,865.1 1323.2,866.6 1325.9,868.1 1328.6,869.5 1331.3,870.8 1334,872.1 1336.7,873.4 1339.4,874.7 1342.1,875.9 1344.8,877.1 1347.5,878.3 1350.2,879.5 1352.9,880.6 1355.6,881.7 1358.2,882.8 1360.9,883.7 1363.6,884.6 1366.3,885.6 1369,886.5 1371.7,887.4 1374.4,888.4 1377.1,889.5 1379.8,890.7 1382.5,892 1385.2,893.5 1387.9,895.1 1390.6,896.8 1393.3,898.6 1396,900.3 1398.7,902 1401.4,903.6 1404.1,905.1 1406.8,906.5 1409.5,907.8 1412.2,909 1414.9,910.1 1417.6,911.1 1420.3,912.1 1423,913 1425.7,913.9 1428.4,914.9 1431,915.9 1433.7,916.9 1436.4,918 1439.1,919.2 1441.8,920.4 1444.5,921.6 1447.2,922.7 1449.9,923.8 1452.6,924.9 1455.3,925.9 1458,926.7 1460.7,927.6 1463.4,928.3 1466.1,929.1 1468.8,929.8 1471.5,930.5 1474.2,931.2 1476.9,931.8 1479.6,932.4 1482.3,933 1485,933.5 1487.7,934 1490.4,934.5 1493.1,934.9 1495.8,935.3 1498.5,935.7 1501.1,936.1 1503.8,936.4 1506.5,936.8 1509.2,937.1 1511.9,937.5 1514.6,938 1517.3,938.5 1520,939.1 1522.7,939.8 1525.4,940.5 1528.1,941.3 1530.8,942.1 1533.5,943 1536.2,943.8 1536.2,948.8" fill="#bebebe" stroke="none"/>
<polyline points="1107.5,934.6 1110.2,931.6 1112.9,928.6 1115.6,925.8 1118.3,923 1121,920.3 1123.7,917.7 1126.4,915.3 1129.1,913 1131.8,911 1134.5,909.2 1137.2,907.5 1139.9,906 1142.6,904.6 1145.2,903.2 1147.9,901.8 1150.6,900.4 1153.3,898.9 1156,897.3 1158.7,895.5 1161.4,893.6 1164.1,891.6 1166.8,889.5 1169.5,887.3 1172.2,885.1 1174.9,882.8 1177.6,880.5 1180.3,878.2 1183,876 1185.7,873.8 1188.4,871.7 1191.1,869.7 1193.8,867.8 1196.5,866 1199.2,864.2 1201.9,862.5 1204.6,860.9 1207.3,859.4 1210,857.9 1212.7,856.4 1215.3,855 1218,853.6 1220.7,852.2 1223.4,850.8 1226.1,849.3 1228.8,847.9 1231.5,846.5 1234.2,845.2 1236.9,844 1239.6,843 1242.3,842.1 1245,841.3 1247.7,840.7 1250.4,840.3 1253.1,840.1 1255.8,840 1258.5,840.2 1261.2,840.4 1263.9,840.8 1266.6,841.4 1269.3,842 1272,842.7 1274.7,843.5 1277.4,844.4 1280.1,845.3 1282.8,846.2 1285.5,847.2 1288.1,848.1 1290.8,849.2 1293.5,850.2 1296.2,851.4 1298.9,852.6 1301.6,854 1304.3,855.4 1307,856.9 1309.7,858.5 1312.4,860.2 1315.1,861.8 1317.8,863.5 1320.5,865.1 1323.2,866.6 1325.9,868.1 1328.6,869.5 1331.3,870.8 1334,872.1 1336.7,873.4 1339.4,874.7 1342.1,875.9 1344.8,877.1 1347.5,878.3 1350.2,879.5 1352.9,880.6 1355.6,881.7 1358.2,882.8 1360.9,883.7 1363.6,884.6 1366.3,885.6 1369,886.5 1371.7,887.4 1374.4,888.4 1377.1,889.5 1379.8,890.7 1382.5,892 1385.2,893.5 1387.9,895.1 1390.6,896.8 1393.3,898.6 1396,900.3 1398.7,902 1401.4,903.6 1404.1,905.1 1406.8,906.5 1409.5,907.8 1412.2,909 1414.9,910.1 1417.6,911.1 1420.3,912.1 1423,913 1425.7,913.9 1428.4,914.9 1431,915.9 1433.7,916.9 1436.4,918 1439.1,919.2 1441.8,920.4 1444.5,921.6 1447.2,922.7 1449.9,923.8 1452.6,924.9 1455.3,925.9 1458,926.7 1460.7,927.6 1463.4,928.3 1466.1,929.1 1468.8,929.8 1471.5,930.5 1474.2,931.2 1476.9,931.8 1479.6,932.4 1482.3,933 1485,933.5 1487.7,934 1490.4,934.5 1493.1,934.9 1495.8,935.3 1498.5,935.7 1501.1,936.1 1503.8,936.4 1506.5,936.8 1509.2,937.1 1511.9,937.5 1514.6,938 1517.3,938.5 1520,939.1 1522.7,939.8 1525.4,940.5 1528.1,941.3 1530.8,942.1 1533.5,943 1536.2,943.8" fill="none" stroke="#E6505A" stroke-width="1.6" stroke-linejoin="round"/>
<rect x="1086.5" y="834.7" width="470.9" height="119.5" fill="none" stroke="#6e6e6e" stroke-width="1.1"/>
<rect x="1585.1" y="353.1" width="26.8" height="26.7" fill="#DE5058" fill-opacity="0.115" stroke="none"/>
<rect x="1585.1" y="353.1" width="26.8" height="26.7" fill="none" stroke="#DE5058" stroke-width="1.9"/>
<line x1="1587.9" x2="1609.3" y1="366.4" y2="366.4" stroke="#DE5058" stroke-width="1.9"/>
<text class="lg" x="1623.3" y="376.8">lr_mono</text>
<rect x="1585.1" y="382.2" width="26.8" height="26.7" fill="#6C961C" fill-opacity="0.115" stroke="none"/>
<rect x="1585.1" y="382.2" width="26.8" height="26.7" fill="none" stroke="#6C961C" stroke-width="1.9"/>
<line x1="1587.9" x2="1609.3" y1="395.5" y2="395.5" stroke="#6C961C" stroke-width="1.9"/>
<text class="lg" x="1623.3" y="405.6">lr_quad</text>
<rect x="1585.1" y="411.3" width="26.8" height="26.7" fill="#1A9EA4" fill-opacity="0.115" stroke="none"/>
<rect x="1585.1" y="411.3" width="26.8" height="26.7" fill="none" stroke="#1A9EA4" stroke-width="1.9"/>
<line x1="1587.9" x2="1609.3" y1="424.6" y2="424.6" stroke="#1A9EA4" stroke-width="1.9"/>
<text class="lg" x="1623.3" y="434.3">lr_sgm</text>
<rect x="1585.1" y="440.2" width="26.8" height="26.7" fill="#A25CEA" fill-opacity="0.115" stroke="none"/>
<rect x="1585.1" y="440.2" width="26.8" height="26.7" fill="none" stroke="#A25CEA" stroke-width="1.9"/>
<line x1="1587.9" x2="1609.3" y1="453.5" y2="453.5" stroke="#A25CEA" stroke-width="1.9"/>
<text class="lg" x="1623.3" y="463.1">brt</text>
</svg>
</body></html>
